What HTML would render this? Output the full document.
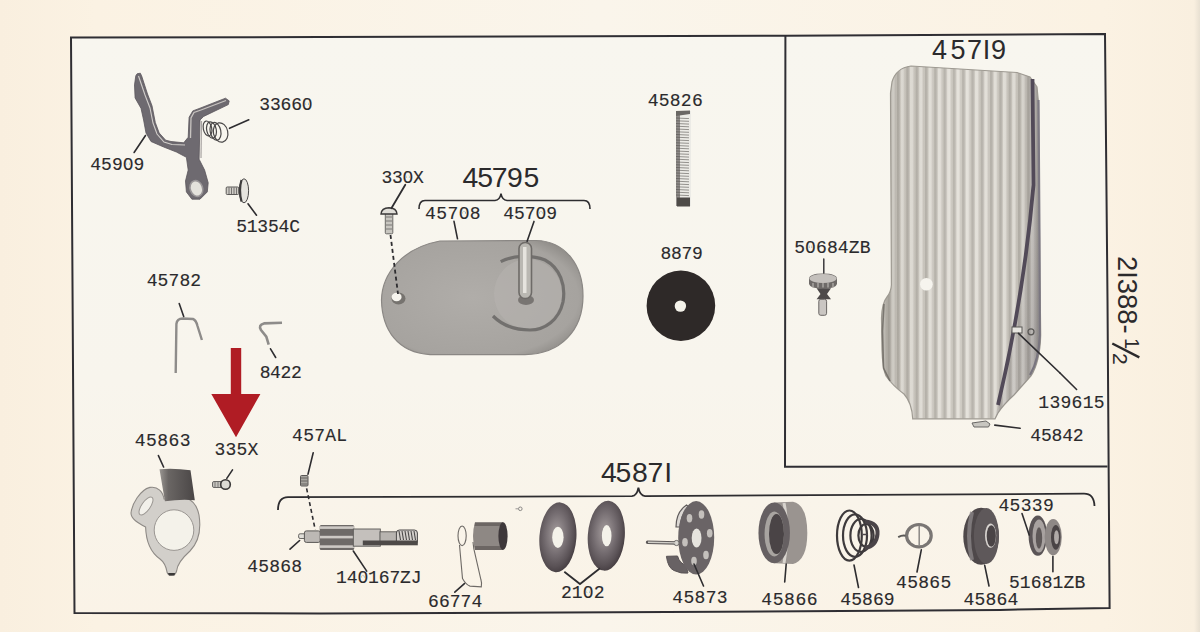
<!DOCTYPE html>
<html><head><meta charset="utf-8"><style>html,body{margin:0;padding:0;background:#fbf2e3;}svg{display:block;}</style></head>
<body>
<svg width="1200" height="632" viewBox="0 0 1200 632">
<defs>
<linearGradient id="lev" x1="0" y1="0" x2="1" y2="1"><stop offset="0" stop-color="#7a767a"/><stop offset="1" stop-color="#5e5a5e"/></linearGradient>
<radialGradient id="plate" cx="0.45" cy="0.5" r="0.62"><stop offset="0" stop-color="#b0ada9"/><stop offset="0.85" stop-color="#a6a39f"/><stop offset="1" stop-color="#908d89"/></radialGradient>
<pattern id="stripes" patternUnits="userSpaceOnUse" width="9.3" height="10" x="897"><rect width="9.3" height="10" fill="#cbc7bf"/><rect x="0" width="2.4" height="10" fill="#b6b2aa"/><rect x="3.6" width="3.4" height="10" fill="#e4e1da"/></pattern>
<linearGradient id="pshade" x1="0" y1="0" x2="1" y2="0"><stop offset="0" stop-color="#6a665e" stop-opacity="0.35"/><stop offset="0.12" stop-color="#6a665e" stop-opacity="0.08"/><stop offset="0.5" stop-color="#fff" stop-opacity="0.05"/><stop offset="0.85" stop-color="#6a665e" stop-opacity="0.05"/><stop offset="1" stop-color="#4a4650" stop-opacity="0.3"/></linearGradient>
<radialGradient id="disc" cx="0.45" cy="0.45" r="0.55"><stop offset="0.2" stop-color="#948c8e"/><stop offset="0.55" stop-color="#746c70"/><stop offset="0.85" stop-color="#5a5256"/><stop offset="1" stop-color="#4a4246"/></radialGradient>
</defs>
<defs><linearGradient id="inner" x1="0" y1="0" x2="0" y2="1"><stop offset="0" stop-color="#f8f6ef"/><stop offset="0.6" stop-color="#f8f5ed"/><stop offset="1" stop-color="#faf3e7"/></linearGradient><linearGradient id="outer" x1="0" y1="0" x2="1" y2="0"><stop offset="0" stop-color="#f9efdf"/><stop offset="0.08" stop-color="#fbf2e3"/><stop offset="0.5" stop-color="#faf5eb"/><stop offset="0.92" stop-color="#fbf2e3"/><stop offset="0.995" stop-color="#f9efdf"/><stop offset="1" stop-color="#e8e0d2"/></linearGradient></defs>
<rect width="1200" height="632" fill="url(#outer)"/>
<polygon points="71,37.5 320,37.1 785.5,35.8 1105,34 1107.5,300 1109.6,608 1000,609.9 720,611.8 320,613.5 74.5,613" fill="url(#inner)"/>
<polygon points="71,37.5 320,37.1 785.5,35.8 1105,34 1107.5,300 1109.6,608 1000,609.9 720,611.8 320,613.5 74.5,613" fill="none" stroke="#2f2e33" stroke-width="2" stroke-linejoin="miter"/>
<polyline points="785.4,35.8 785.2,265 785,466.8 1107.5,466.5" fill="none" stroke="#2f2e33" stroke-width="2"/>
<path d="M381.5,300 C382,274 402,248 440,241 L536,240.5 C566,241 583,266 583,296 C583,330 561,354 525,354.6 L430,354.6 C398,353 382,330 381.5,300 Z" fill="url(#plate)" stroke="#8a8784" stroke-width="1.2"/>
<ellipse cx="528" cy="294" rx="34" ry="35" fill="#b6b3af" opacity="0.6"/>
<path d="M500.7,261.6 C512,256 530,254 545,260 C560,268 566,285 563,302 C559,320 545,330 530,330 C512,330 500,323 493,316" fill="none" stroke="#72706e" stroke-width="3.2"/>
<ellipse cx="526" cy="300" rx="8" ry="5" fill="#6a6764" opacity="0.8"/>
<rect x="519" y="242.5" width="12.5" height="56" rx="6" fill="#bab8b2" stroke="#6e6b68" stroke-width="1.6"/>
<rect x="523" y="247" width="3.5" height="46" fill="#e6e4de"/>
<ellipse cx="398.5" cy="298.5" rx="7" ry="6" fill="#76736f"/>
<ellipse cx="396.6" cy="297" rx="5" ry="4.2" fill="#f6f4ee"/>
<rect x="385.3" y="213" width="7.5" height="20.8" rx="1" fill="#c8c6c0" stroke="#6a6866" stroke-width="1"/>
<line x1="386" y1="217" x2="392" y2="217" stroke="#7a7876" stroke-width="1"/>
<line x1="386" y1="221" x2="392" y2="221" stroke="#7a7876" stroke-width="1"/>
<line x1="386" y1="225" x2="392" y2="225" stroke="#7a7876" stroke-width="1"/>
<line x1="386" y1="229" x2="392" y2="229" stroke="#7a7876" stroke-width="1"/>
<path d="M381,214 Q381.5,208 389,207.8 Q396.5,208 397,214 Z" fill="#e0ded8" stroke="#3a3838" stroke-width="1.4"/>
<path d="M390.5,235 L398,294" stroke="#2e2d30" stroke-width="1.8" stroke-dasharray="4,3"/>
<path d="M419,209 Q419,200.5 425,200.5 L495,200.5 Q500,200 501,193.5 Q502,200 507,200.5 L584,200.5 Q590,200.5 590,209" fill="none" stroke="#2e2d30" stroke-width="1.6"/>
<line x1="405.3" y1="184.8" x2="391.4" y2="208.2" stroke="#2e2d30" stroke-width="1.8" stroke-linecap="round" />
<line x1="454" y1="221.4" x2="457.5" y2="238.8" stroke="#2e2d30" stroke-width="1.6" stroke-linecap="round" />
<line x1="534" y1="221.4" x2="527.1" y2="241.2" stroke="#2e2d30" stroke-width="1.6" stroke-linecap="round" />
<ellipse cx="680.9" cy="305.7" rx="34.3" ry="35.2" fill="#2e2928"/>
<circle cx="680.4" cy="306.1" r="5.7" fill="#f4f2ea"/>
<rect x="676" y="111" width="15" height="95" fill="#ecebe6"/>
<rect x="676" y="111" width="4" height="95" fill="#8e8a88"/>
<line x1="676" y1="118.0" x2="689" y2="118.6" stroke="#4e4b48" stroke-width="0.8" opacity="0.7"/>
<line x1="676" y1="120.8" x2="689" y2="121.3" stroke="#4e4b48" stroke-width="0.8" opacity="0.7"/>
<line x1="676" y1="123.5" x2="689" y2="124.1" stroke="#4e4b48" stroke-width="0.8" opacity="0.7"/>
<line x1="676" y1="126.2" x2="689" y2="126.8" stroke="#4e4b48" stroke-width="0.8" opacity="0.7"/>
<line x1="676" y1="129.0" x2="689" y2="129.6" stroke="#4e4b48" stroke-width="0.8" opacity="0.7"/>
<line x1="676" y1="131.8" x2="689" y2="132.3" stroke="#4e4b48" stroke-width="0.8" opacity="0.7"/>
<line x1="676" y1="134.5" x2="689" y2="135.1" stroke="#4e4b48" stroke-width="0.8" opacity="0.7"/>
<line x1="676" y1="137.2" x2="689" y2="137.8" stroke="#4e4b48" stroke-width="0.8" opacity="0.7"/>
<line x1="676" y1="140.0" x2="689" y2="140.6" stroke="#4e4b48" stroke-width="0.8" opacity="0.7"/>
<line x1="676" y1="142.8" x2="689" y2="143.3" stroke="#4e4b48" stroke-width="0.8" opacity="0.7"/>
<line x1="676" y1="145.5" x2="689" y2="146.1" stroke="#4e4b48" stroke-width="0.8" opacity="0.7"/>
<line x1="676" y1="148.2" x2="689" y2="148.8" stroke="#4e4b48" stroke-width="0.8" opacity="0.7"/>
<line x1="676" y1="151.0" x2="689" y2="151.6" stroke="#4e4b48" stroke-width="0.8" opacity="0.7"/>
<line x1="676" y1="153.8" x2="689" y2="154.3" stroke="#4e4b48" stroke-width="0.8" opacity="0.7"/>
<line x1="676" y1="156.5" x2="689" y2="157.1" stroke="#4e4b48" stroke-width="0.8" opacity="0.7"/>
<line x1="676" y1="159.2" x2="689" y2="159.8" stroke="#4e4b48" stroke-width="0.8" opacity="0.7"/>
<line x1="676" y1="162.0" x2="689" y2="162.6" stroke="#4e4b48" stroke-width="0.8" opacity="0.7"/>
<line x1="676" y1="164.8" x2="689" y2="165.3" stroke="#4e4b48" stroke-width="0.8" opacity="0.7"/>
<line x1="676" y1="167.5" x2="689" y2="168.1" stroke="#4e4b48" stroke-width="0.8" opacity="0.7"/>
<line x1="676" y1="170.2" x2="689" y2="170.8" stroke="#4e4b48" stroke-width="0.8" opacity="0.7"/>
<line x1="676" y1="173.0" x2="689" y2="173.6" stroke="#4e4b48" stroke-width="0.8" opacity="0.7"/>
<line x1="676" y1="175.8" x2="689" y2="176.3" stroke="#4e4b48" stroke-width="0.8" opacity="0.7"/>
<line x1="676" y1="178.5" x2="689" y2="179.1" stroke="#4e4b48" stroke-width="0.8" opacity="0.7"/>
<line x1="676" y1="181.2" x2="689" y2="181.8" stroke="#4e4b48" stroke-width="0.8" opacity="0.7"/>
<line x1="676" y1="184.0" x2="689" y2="184.6" stroke="#4e4b48" stroke-width="0.8" opacity="0.7"/>
<line x1="676" y1="186.8" x2="689" y2="187.3" stroke="#4e4b48" stroke-width="0.8" opacity="0.7"/>
<line x1="676" y1="189.5" x2="689" y2="190.1" stroke="#4e4b48" stroke-width="0.8" opacity="0.7"/>
<line x1="676" y1="192.2" x2="689" y2="192.8" stroke="#4e4b48" stroke-width="0.8" opacity="0.7"/>
<line x1="676" y1="195.0" x2="689" y2="195.6" stroke="#4e4b48" stroke-width="0.8" opacity="0.7"/>
<path d="M676,111 L690,110.5 L690,114 L676,116 Z" fill="#6a6764"/>
<rect x="677" y="197.5" width="13" height="9" fill="#4e4b48"/>
<path d="M911,66 L1017,72.5 L1030,77 L1037,87 L1038.5,103 L1039.5,240 L1040.7,335 Q1040,362 1031,376 L1014,395 Q1003,405 998,413 L995,418.8 L912.7,418.8 Q912,403 904,394 Q893,386 886,376 Q882.5,368 882,350 L881.5,318 Q882,303 887,297 Q891,292 891.4,285 L890.5,93 L892,82 Q896,68 911,66 Z" fill="url(#stripes)"/>
<path d="M911,66 L1017,72.5 L1030,77 L1037,87 L1038.5,103 L1039.5,240 L1040.7,335 Q1040,362 1031,376 L1014,395 Q1003,405 998,413 L995,418.8 L912.7,418.8 Q912,403 904,394 Q893,386 886,376 Q882.5,368 882,350 L881.5,318 Q882,303 887,297 Q891,292 891.4,285 L890.5,93 L892,82 Q896,68 911,66 Z" fill="url(#pshade)"/>
<path d="M911,66 L1017,72.5 L1030,77 L1037,87 L1038.5,103 L1039.5,240 L1040.7,335 Q1040,362 1031,376 L1014,395 Q1003,405 998,413 L995,418.8 L912.7,418.8 Q912,403 904,394 Q893,386 886,376 Q882.5,368 882,350 L881.5,318 Q882,303 887,297 Q891,292 891.4,285 L890.5,93 L892,82 Q896,68 911,66 Z" fill="none" stroke="#9e9a92" stroke-width="1.2"/>
<path d="M1038.5,100 L1039.5,240 L1039.8,335 Q1039,360 1030,375" fill="none" stroke="#7e7a84" stroke-width="2.2"/>
<path d="M884,304 L882.5,331 L883.5,368 L890,381" fill="none" stroke="#6a6660" stroke-width="1.6" opacity="0.8"/>
<defs><linearGradient id="rshade" gradientUnits="userSpaceOnUse" x1="0" y1="200" x2="0" y2="340"><stop offset="0" stop-color="#5a5660" stop-opacity="0"/><stop offset="1" stop-color="#5a5660" stop-opacity="0.14"/></linearGradient></defs>
<path d="M1033.5,185 Q1024,295 998,405 L995,418.8 L998,413 Q1003,405 1014,395 L1031,376 Q1040,362 1040.7,335 L1039.5,185 Z" fill="url(#rshade)"/>
<path d="M1032.5,79 L1033.5,185 Q1024,295 998,405" fill="none" stroke="#524a58" stroke-width="3.8" stroke-linejoin="round"/>
<circle cx="926.4" cy="284.2" r="6.3" fill="#f6f4ee"/>
<rect x="1012" y="327" width="10" height="6" fill="#e8e6e0" stroke="#5a5856" stroke-width="1"/>
<circle cx="1031" cy="331.8" r="3" fill="none" stroke="#5a5856" stroke-width="1.2"/>
<line x1="1018.5" y1="333.4" x2="1060" y2="373" stroke="#2e2d30" stroke-width="1.6" stroke-linecap="round" />
<line x1="1060" y1="373" x2="1076.6" y2="389.5" stroke="#2e2d30" stroke-width="1.6" stroke-linecap="round" />
<path d="M972,423 L986,421 L990,424 L988.5,427 L974,427 Z" fill="#c8c6c0" stroke="#6a6866" stroke-width="1"/>
<line x1="994.8" y1="425.1" x2="1020.1" y2="428.3" stroke="#2e2d30" stroke-width="1.6" stroke-linecap="round" />
<line x1="823.8" y1="258.9" x2="823.8" y2="273.3" stroke="#2e2d30" stroke-width="1.4" stroke-linecap="round" />
<path d="M809,279 Q809,273.5 823,273.5 Q837,273.5 837,279 L837,284 Q836,288.5 823,288.5 Q810,288.5 809,284 Z" fill="#6e6a68"/>
<ellipse cx="823" cy="278.5" rx="13.5" ry="4.5" fill="#c4c0bc"/>
<line x1="813" y1="283" x2="813" y2="287.5" stroke="#b8b4b0" stroke-width="1.2"/>
<line x1="818" y1="283" x2="818" y2="287.5" stroke="#b8b4b0" stroke-width="1.2"/>
<line x1="823" y1="283" x2="823" y2="287.5" stroke="#b8b4b0" stroke-width="1.2"/>
<line x1="828" y1="283" x2="828" y2="287.5" stroke="#b8b4b0" stroke-width="1.2"/>
<line x1="833" y1="283" x2="833" y2="287.5" stroke="#b8b4b0" stroke-width="1.2"/>
<path d="M816.6,288.3 L831,288.3 L827,294 L831,299.3 L816.6,299.3 L820.5,294 Z" fill="#4e4a4a"/>
<rect x="818.8" y="299.3" width="7.8" height="16" rx="2" fill="#cac6c2" stroke="#6a6664" stroke-width="1"/>
<path d="M137.1,73.8 L140.3,73.2 L141.6,75.8 L147.5,94 L152,105.7 L155.3,122.5 L159.2,133 L165.7,140.2 L171,141.5 L183.7,142.8 L188.2,137.3 L189.1,117.3 L192.8,110.9 L200,108.2 L225.5,98.2 L229.2,100.9 L228.3,104.6 L203.7,116.4 L200,120 L199.1,159.2 L204.6,170.1 L208.2,182.8 L207.3,191.9 L200,199.2 L191.9,199.2 L186.4,191.9 L185.5,181 L188.2,170.1 L186.4,157.3 L176.4,152 L163.7,147 L151,141.5 L146,133 L143.6,120 L141,108.3 L135.1,97.9 L134.5,84.9 L135.8,75.8 Z" fill="#6e6a70" stroke="#5a565c" stroke-width="0.8" stroke-linejoin="round"/>
<path d="M138.5,76 L145,95 L150,108 L153,123 L157,134 L164,142 L172,144.5 L185,145" fill="none" stroke="#dcd8d4" stroke-width="1.1" opacity="0.9"/>
<path d="M190.5,138 L191,118 L194,112.5 L201,110 L226,100.5" fill="none" stroke="#c8c4c0" stroke-width="1.3"/>
<path d="M201.5,121 L201,158" fill="none" stroke="#a8a4a2" stroke-width="1.2"/>
<ellipse cx="196.4" cy="188.5" rx="6.2" ry="8" transform="rotate(-20 196.4 188.5)" fill="#e4e2dc" stroke="#9a9698" stroke-width="1.6"/>
<ellipse cx="207.5" cy="128.5" rx="4.2" ry="7.6" transform="rotate(-12 207.5 128.5)" fill="none" stroke="#4a4848" stroke-width="1.2"/>
<ellipse cx="211.5" cy="130" rx="4.8" ry="8.3" transform="rotate(-12 211.5 130)" fill="none" stroke="#4a4848" stroke-width="1.2"/>
<ellipse cx="215.5" cy="131.3" rx="5.3" ry="9" transform="rotate(-12 215.5 131.3)" fill="none" stroke="#4a4848" stroke-width="1.2"/>
<ellipse cx="220.6" cy="132.5" rx="7.2" ry="9.8" transform="rotate(-12 220.6 132.5)" fill="none" stroke="#4a4848" stroke-width="1.2"/>
<line x1="229.5" y1="128.3" x2="248.8" y2="119.8" stroke="#2e2d30" stroke-width="1.6" stroke-linecap="round" />
<line x1="134.1" y1="152.5" x2="145.5" y2="135.5" stroke="#2e2d30" stroke-width="1.6" stroke-linecap="round" />
<rect x="226.2" y="187" width="12.5" height="7.5" rx="1" fill="#cfccc6" stroke="#5a5856" stroke-width="1"/>
<line x1="229" y1="187.5" x2="229" y2="194" stroke="#6a6866" stroke-width="0.9"/>
<line x1="231.5" y1="187.5" x2="231.5" y2="194" stroke="#6a6866" stroke-width="0.9"/>
<line x1="234" y1="187.5" x2="234" y2="194" stroke="#6a6866" stroke-width="0.9"/>
<line x1="236.5" y1="187.5" x2="236.5" y2="194" stroke="#6a6866" stroke-width="0.9"/>
<ellipse cx="244" cy="190.8" rx="4.6" ry="12" fill="#e6e4de" stroke="#4a4848" stroke-width="1"/>
<path d="M241.5,180 Q238.5,190 241.5,201.5" fill="none" stroke="#3e3c3c" stroke-width="2.2"/>
<line x1="248" y1="203.8" x2="256.5" y2="215.2" stroke="#2e2d30" stroke-width="1.6" stroke-linecap="round" />
<path d="M175.7,373 L176.4,324 Q177,318.5 182.7,318.5 L193,319 Q196,320 197.5,326 L201.9,340" fill="none" stroke="#8e8c8a" stroke-width="2.4"/>
<line x1="179.2" y1="303.5" x2="183.7" y2="316.4" stroke="#2e2d30" stroke-width="1.6" stroke-linecap="round" />
<path d="M282,322.7 L264,323.4 Q258,325 261,330 L266.3,336.6 L268.7,344.6" fill="none" stroke="#8e8c8a" stroke-width="2.6"/>
<line x1="270.5" y1="348.8" x2="275.7" y2="357.5" stroke="#2e2d30" stroke-width="1.6" stroke-linecap="round" />
<path d="M230.8,348.1 L241.2,348.1 L241.2,393.9 L260.4,393.9 L236,437.2 L211.3,393.9 L230.8,393.9 Z" fill="#b01c24"/>
<path d="M149.9,487.4 C140,490 132,504 131,513 C131,519 138,523 145.6,527 C146,540 150,552 160,559 C164,562 166,566 167,572 C168,576 175,577 176.6,571 C177,566 181,559 190,551 C199,542 201,528 199,515 C197,505 192,500 186,498 L164,499 C163,492 158,486 149.9,487.4 Z" fill="#d2cfca" stroke="#8e8a86" stroke-width="1.1"/>
<ellipse cx="174" cy="530.1" rx="19.8" ry="20.3" fill="#f4f2ea" stroke="#9a9692" stroke-width="1"/>
<ellipse cx="146" cy="506" rx="10.5" ry="4.3" transform="rotate(-55 146 506)" fill="#f2f0ea" stroke="#9a9692" stroke-width="1"/>
<path d="M168,573 L175,573 L174.5,575.5 L169,575.5 Z" fill="#3a3838"/>
<defs><linearGradient id="blk" x1="0" y1="0" x2="1" y2="0"><stop offset="0" stop-color="#9a9692"/><stop offset="0.25" stop-color="#6a6664"/><stop offset="1" stop-color="#4a4646"/></linearGradient></defs>
<path d="M159.5,469.2 Q175,468 190.5,470.3 L194.8,500.2 Q180,499 164.9,501.3 Z" fill="url(#blk)"/>
<line x1="158.4" y1="455.6" x2="163.6" y2="467" stroke="#2e2d30" stroke-width="1.6" stroke-linecap="round" />
<rect x="212.5" y="481.5" width="10" height="6" rx="1.5" fill="#c6c4be" stroke="#6a6866" stroke-width="1"/>
<line x1="215" y1="482" x2="215" y2="487" stroke="#6a6866" stroke-width="0.8"/>
<line x1="218" y1="482" x2="218" y2="487" stroke="#6a6866" stroke-width="0.8"/>
<line x1="221" y1="482" x2="221" y2="487" stroke="#6a6866" stroke-width="0.8"/>
<circle cx="225.5" cy="484.5" r="4.8" fill="#dcdad4" stroke="#3a3838" stroke-width="1.6"/>
<line x1="232.5" y1="469.9" x2="226.8" y2="478.4" stroke="#2e2d30" stroke-width="1.6" stroke-linecap="round" />
<rect x="300.5" y="475.5" width="7.5" height="10.5" rx="1" fill="#a8a6a0" stroke="#5a5856" stroke-width="1"/>
<line x1="301" y1="478" x2="307.5" y2="478" stroke="#5a5856" stroke-width="0.8"/>
<line x1="301" y1="481" x2="307.5" y2="481" stroke="#5a5856" stroke-width="0.8"/>
<line x1="301" y1="484" x2="307.5" y2="484" stroke="#5a5856" stroke-width="0.8"/>
<line x1="313.2" y1="452.8" x2="308" y2="474.1" stroke="#2e2d30" stroke-width="1.6" stroke-linecap="round" />
<path d="M306.6,488.4 L315.2,529.7" stroke="#2e2d30" stroke-width="1.6" stroke-dasharray="4,3"/>
<path d="M278,510 Q278,497.5 288,497.2 L632,496.2 Q637,495.8 638.4,487.7 Q640,495.8 645,496.1 L1084,493.7 Q1094,493.7 1094.5,506" fill="none" stroke="#2e2d30" stroke-width="1.8"/>
<rect x="298.6" y="533.8" width="7" height="4.7" rx="1.5" fill="#e0ded8" stroke="#5a5856" stroke-width="0.9"/>
<rect x="304.4" y="530.9" width="16" height="11.5" rx="2" fill="#bcb8b4" stroke="#5a5856" stroke-width="1"/>
<rect x="319.7" y="525.1" width="34.5" height="24.9" rx="1.5" fill="#6e6a68"/>
<rect x="320" y="526.3" width="34" height="2.6" fill="#cdc9c5"/>
<rect x="320" y="535.8" width="34" height="2.6" fill="#cdc9c5"/>
<rect x="320" y="545.3" width="34" height="2.6" fill="#cdc9c5"/>
<rect x="353.3" y="529" width="27" height="17.2" fill="#c4c0bc" stroke="#5a5856" stroke-width="0.9"/>
<rect x="380" y="531.8" width="17.5" height="11.5" fill="#b8b4b0" stroke="#5a5856" stroke-width="0.9"/>
<rect x="396.4" y="530" width="21" height="14.3" rx="3" fill="#d4d0cc" stroke="#4a4848" stroke-width="1"/>
<line x1="399" y1="531" x2="400.5" y2="540" stroke="#4a4848" stroke-width="1.1"/>
<line x1="402" y1="531" x2="403.5" y2="540" stroke="#4a4848" stroke-width="1.1"/>
<line x1="405" y1="531" x2="406.5" y2="540" stroke="#4a4848" stroke-width="1.1"/>
<line x1="408" y1="531" x2="409.5" y2="540" stroke="#4a4848" stroke-width="1.1"/>
<line x1="411" y1="531" x2="412.5" y2="540" stroke="#4a4848" stroke-width="1.1"/>
<line x1="414" y1="531" x2="415.5" y2="540" stroke="#4a4848" stroke-width="1.1"/>
<rect x="362.8" y="540.5" width="55" height="4.8" fill="#4e4a48"/>
<line x1="290" y1="549.1" x2="299.6" y2="540.5" stroke="#2e2d30" stroke-width="1.6" stroke-linecap="round" />
<line x1="353.3" y1="551" x2="366.7" y2="571.1" stroke="#2e2d30" stroke-width="1.6" stroke-linecap="round" />
<ellipse cx="462.1" cy="535.8" rx="4.1" ry="9.8" fill="none" stroke="#6e6a66" stroke-width="1.1"/>
<path d="M459.5,545 L462.5,578.6 Q466,585 470,586.1 L481.3,586.9 Q482,583 481,580 L473.8,548.6 L473,542" fill="none" stroke="#6e6a66" stroke-width="1.1"/>
<line x1="454.8" y1="592.2" x2="464.4" y2="583.6" stroke="#2e2d30" stroke-width="1.6" stroke-linecap="round" />
<path d="M475,522.3 L503,522.3 L503,550 L475,550 Q471,536 475,522.3 Z" fill="#8e8884"/>
<path d="M475,522.5 L503,522.5 L503,526 L474.5,526 Z" fill="#5e5856" opacity="0.7"/>
<path d="M474.5,546 L503,546 L503,550 L475,550 Z" fill="#5e5856" opacity="0.7"/>
<ellipse cx="503" cy="536.1" rx="4.6" ry="13.8" fill="#3e383a"/>
<circle cx="520.3" cy="508.8" r="1.8" fill="none" stroke="#8a8886" stroke-width="1"/>
<line x1="515.5" y1="508.8" x2="518" y2="508.8" stroke="#9a9896" stroke-width="1"/>
<ellipse cx="557.9" cy="537.3" rx="18.5" ry="35" transform="rotate(4 557.9 537.3)" fill="url(#disc)"/>
<ellipse cx="557.9" cy="537.3" rx="5.7" ry="10.6" fill="#f4f2ea"/>
<ellipse cx="606.3" cy="535.7" rx="18.5" ry="35" transform="rotate(4 606.3 535.7)" fill="url(#disc)"/>
<ellipse cx="606.7" cy="535.7" rx="4.8" ry="10.6" fill="#f4f2ea"/>
<polyline points="564.3,571.7 580,584 600,568.3" fill="none" stroke="#2e2d30" stroke-width="1.8"/>
<path d="M686.5,505 Q676,512 676,527 L680,527 Q681,514 689,507 Z" fill="#dcd8d4" stroke="#5e5a5a" stroke-width="1.2"/>
<path d="M666.4,556.3 Q668,568 674,570.5 Q681,574 688,573 L686,565 Q680,564 677.5,556 Z" fill="#686264" stroke="#5a5456" stroke-width="1"/>
<ellipse cx="696.2" cy="537.8" rx="18" ry="36.7" fill="#6a6466"/>
<ellipse cx="696.6" cy="538" rx="4.9" ry="9.4" fill="#e6e4de"/>
<ellipse cx="689.5" cy="518.2" rx="2.8" ry="4.2" fill="#c4c0bc"/>
<ellipse cx="701.5" cy="514.5" rx="2.8" ry="4.2" fill="#c4c0bc"/>
<ellipse cx="709.7" cy="533.2" rx="2.8" ry="4.2" fill="#c4c0bc"/>
<ellipse cx="685" cy="542.2" rx="2.8" ry="4.2" fill="#c4c0bc"/>
<ellipse cx="706" cy="555" rx="2.8" ry="4.2" fill="#c4c0bc"/>
<ellipse cx="694" cy="561" rx="2.8" ry="4.2" fill="#c4c0bc"/>
<line x1="647.5" y1="542.2" x2="677" y2="543" stroke="#5e5a5a" stroke-width="3.4" stroke-linecap="round"/>
<circle cx="676.5" cy="543" r="2.6" fill="#d8d6d0" stroke="#6a6866" stroke-width="1"/>
<line x1="648" y1="542.2" x2="676" y2="542.9" stroke="#d0cec8" stroke-width="1.4"/>
<line x1="694" y1="564" x2="703.5" y2="586" stroke="#2e2d30" stroke-width="1.6" stroke-linecap="round" />
<path d="M774.2,502.5 L793,501.8 Q807.3,505 807.3,533 Q807.3,560 793,564 L774.2,563.3 Z" fill="#9a9490"/>
<path d="M784,503 Q790,533 784,563" fill="none" stroke="#d8d4ce" stroke-width="3"/>
<ellipse cx="774.2" cy="532.9" rx="15.75" ry="30.4" fill="#666062"/>
<ellipse cx="774.3" cy="534" rx="9.75" ry="22.5" fill="#a8a4a0"/>
<ellipse cx="776.5" cy="534" rx="7.5" ry="20" fill="#4a4446"/>
<line x1="786.2" y1="564" x2="784.7" y2="582" stroke="#2e2d30" stroke-width="1.6" stroke-linecap="round" />
<ellipse cx="849.4" cy="535.6" rx="12.4" ry="25.1" fill="none" stroke="#3e3a3c" stroke-width="2.2"/>
<ellipse cx="855" cy="535.6" rx="12" ry="21.2" fill="none" stroke="#3e3a3c" stroke-width="2.2"/>
<ellipse cx="861" cy="535.4" rx="10.6" ry="16.4" fill="none" stroke="#3e3a3c" stroke-width="2.2"/>
<ellipse cx="866" cy="535.4" rx="7.6" ry="11.4" fill="none" stroke="#3e3a3c" stroke-width="2.2"/>
<path d="M865,521.5 Q878.5,523 877.5,534 Q876.5,546 865,548" fill="none" stroke="#4a4448" stroke-width="4"/>
<line x1="863" y1="534.5" x2="868" y2="534.5" stroke="#4a4448" stroke-width="1.5"/>
<line x1="854" y1="565" x2="858.5" y2="587.5" stroke="#2e2d30" stroke-width="1.6" stroke-linecap="round" />
<ellipse cx="918.9" cy="535.7" rx="12.3" ry="11.2" fill="none" stroke="#7a7674" stroke-width="3.2"/>
<line x1="919.2" y1="525.7" x2="919.2" y2="545.6" stroke="#8a8684" stroke-width="1.5"/>
<path d="M898.2,537.1 Q902,535 905.5,535.7" fill="none" stroke="#5a5856" stroke-width="2"/>
<line x1="921.3" y1="549.9" x2="917" y2="572" stroke="#2e2d30" stroke-width="1.6" stroke-linecap="round" />
<ellipse cx="981.1" cy="536.2" rx="17.8" ry="28.5" fill="#4e484a"/>
<path d="M972,512 Q966,536 972,560" fill="none" stroke="#8a8486" stroke-width="4" opacity="0.8"/>
<ellipse cx="986.4" cy="536" rx="12.5" ry="28" fill="#5e585a"/>
<ellipse cx="990.6" cy="535.6" rx="5.6" ry="12.2" fill="#d8d4d0"/>
<ellipse cx="991.3" cy="536" rx="4.6" ry="10.8" fill="#4a4446"/>
<line x1="984.7" y1="565.3" x2="989" y2="586" stroke="#2e2d30" stroke-width="1.6" stroke-linecap="round" />
<ellipse cx="1037.8" cy="535.6" rx="9.2" ry="20.2" fill="#5a5456"/>
<ellipse cx="1039" cy="536" rx="6.5" ry="16.5" fill="#a8a2a0"/>
<ellipse cx="1039" cy="538" rx="3.2" ry="10.7" fill="#5e5858"/>
<ellipse cx="1053.2" cy="537.1" rx="8.6" ry="18.1" fill="#8e8886"/>
<ellipse cx="1055.8" cy="537.3" rx="4.8" ry="12.4" fill="#4a4446"/>
<ellipse cx="1056.5" cy="537.3" rx="2.4" ry="7" fill="#b0aaa8"/>
<line x1="1022" y1="513.6" x2="1029.2" y2="535" stroke="#2e2d30" stroke-width="1.6" stroke-linecap="round" />
<line x1="1052.9" y1="556.4" x2="1052.9" y2="571.8" stroke="#2e2d30" stroke-width="1.6" stroke-linecap="round" />
<text x="259.3" y="109.6" font-family="Liberation Mono, monospace" font-size="18" letter-spacing="-0.18" fill="#2b2a2c" stroke="#2b2a2c" stroke-width="0.15">33660</text>
<ellipse cx="307.14" cy="103.70" rx="1.3" ry="1.9" fill="#f8f5ed"/>
<text x="90.3" y="169.6" font-family="Liberation Mono, monospace" font-size="18" letter-spacing="0.02" fill="#2b2a2c" stroke="#2b2a2c" stroke-width="0.15">45909</text>
<ellipse cx="128.12" cy="163.70" rx="1.3" ry="1.9" fill="#f8f5ed"/>
<text x="236.2" y="231.8" font-family="Liberation Mono, monospace" font-size="18" letter-spacing="-0.21" fill="#2b2a2c" stroke="#2b2a2c" stroke-width="0.15">51354C</text>
<text x="381.4" y="182.6" font-family="Liberation Mono, monospace" font-size="18" letter-spacing="-0.28" fill="#2b2a2c" stroke="#2b2a2c" stroke-width="0.15">330X</text>
<ellipse cx="407.82" cy="176.70" rx="1.3" ry="1.9" fill="#f8f5ed"/>
<text x="425.1" y="219.3" font-family="Liberation Mono, monospace" font-size="18" letter-spacing="0.39" fill="#2b2a2c" stroke="#2b2a2c" stroke-width="0.15">45708</text>
<ellipse cx="464.05" cy="213.40" rx="1.3" ry="1.9" fill="#f8f5ed"/>
<text x="503.3" y="219.3" font-family="Liberation Mono, monospace" font-size="18" letter-spacing="-0.06" fill="#2b2a2c" stroke="#2b2a2c" stroke-width="0.15">45709</text>
<ellipse cx="540.90" cy="213.40" rx="1.3" ry="1.9" fill="#f8f5ed"/>
<text x="647.8" y="105.8" font-family="Liberation Mono, monospace" font-size="18" letter-spacing="0.22" fill="#2b2a2c" stroke="#2b2a2c" stroke-width="0.15">45826</text>
<text x="660.5" y="259.2" font-family="Liberation Mono, monospace" font-size="18" letter-spacing="-0.31" fill="#2b2a2c" stroke="#2b2a2c" stroke-width="0.15">8879</text>
<text x="794.2" y="252.6" font-family="Liberation Mono, monospace" font-size="18" letter-spacing="0.11" fill="#2b2a2c" stroke="#2b2a2c" stroke-width="0.15">50684ZB</text>
<ellipse cx="810.49" cy="246.70" rx="1.3" ry="1.9" fill="#f8f5ed"/>
<text x="1038.3" y="407.8" font-family="Liberation Mono, monospace" font-size="18" letter-spacing="0.29" fill="#2b2a2c" stroke="#2b2a2c" stroke-width="0.15">139615</text>
<text x="1030.3" y="441.0" font-family="Liberation Mono, monospace" font-size="18" letter-spacing="-0.16" fill="#2b2a2c" stroke="#2b2a2c" stroke-width="0.15">45842</text>
<text x="146.7" y="286.3" font-family="Liberation Mono, monospace" font-size="18" letter-spacing="0.11" fill="#2b2a2c" stroke="#2b2a2c" stroke-width="0.15">45782</text>
<text x="259.7" y="378.3" font-family="Liberation Mono, monospace" font-size="18" letter-spacing="-0.38" fill="#2b2a2c" stroke="#2b2a2c" stroke-width="0.15">8422</text>
<text x="214.4" y="455.4" font-family="Liberation Mono, monospace" font-size="18" letter-spacing="0.22" fill="#2b2a2c" stroke="#2b2a2c" stroke-width="0.15">335X</text>
<text x="134.8" y="446.2" font-family="Liberation Mono, monospace" font-size="18" letter-spacing="0.46" fill="#2b2a2c" stroke="#2b2a2c" stroke-width="0.15">45863</text>
<text x="292.1" y="440.6" font-family="Liberation Mono, monospace" font-size="18" letter-spacing="0.24" fill="#2b2a2c" stroke="#2b2a2c" stroke-width="0.15">457AL</text>
<text x="247.3" y="571.7" font-family="Liberation Mono, monospace" font-size="18" letter-spacing="0.19" fill="#2b2a2c" stroke="#2b2a2c" stroke-width="0.15">45868</text>
<text x="336.1" y="583.4" font-family="Liberation Mono, monospace" font-size="18" letter-spacing="-0.13" fill="#2b2a2c" stroke="#2b2a2c" stroke-width="0.15">140167ZJ</text>
<ellipse cx="362.81" cy="577.50" rx="1.3" ry="1.9" fill="#f8f5ed"/>
<text x="428.1" y="607.1" font-family="Liberation Mono, monospace" font-size="18" letter-spacing="0.02" fill="#2b2a2c" stroke="#2b2a2c" stroke-width="0.15">66774</text>
<text x="560.9" y="597.5" font-family="Liberation Mono, monospace" font-size="18" letter-spacing="0.15" fill="#2b2a2c" stroke="#2b2a2c" stroke-width="0.15">2102</text>
<ellipse cx="588.19" cy="591.60" rx="1.3" ry="1.9" fill="#f8f5ed"/>
<text x="672.3" y="602.9" font-family="Liberation Mono, monospace" font-size="18" letter-spacing="0.32" fill="#2b2a2c" stroke="#2b2a2c" stroke-width="0.15">45873</text>
<text x="761.3" y="604.9" font-family="Liberation Mono, monospace" font-size="18" letter-spacing="0.57" fill="#2b2a2c" stroke="#2b2a2c" stroke-width="0.15">45866</text>
<text x="840.3" y="604.9" font-family="Liberation Mono, monospace" font-size="18" letter-spacing="0.07" fill="#2b2a2c" stroke="#2b2a2c" stroke-width="0.15">45869</text>
<text x="896.1" y="587.9" font-family="Liberation Mono, monospace" font-size="18" letter-spacing="0.27" fill="#2b2a2c" stroke="#2b2a2c" stroke-width="0.15">45865</text>
<text x="963.6" y="605.0" font-family="Liberation Mono, monospace" font-size="18" letter-spacing="0.19" fill="#2b2a2c" stroke="#2b2a2c" stroke-width="0.15">45864</text>
<text x="998.5" y="511.0" font-family="Liberation Mono, monospace" font-size="18" letter-spacing="0.32" fill="#2b2a2c" stroke="#2b2a2c" stroke-width="0.15">45339</text>
<text x="1008.9" y="587.9" font-family="Liberation Mono, monospace" font-size="18" letter-spacing="0.13" fill="#2b2a2c" stroke="#2b2a2c" stroke-width="0.15">51681ZB</text>
<text x="470.5" y="186.9" font-family="Liberation Sans, sans-serif" font-size="28.4" text-anchor="middle" fill="#2b2a2c">4</text>
<text x="485.1" y="186.9" font-family="Liberation Sans, sans-serif" font-size="28.4" text-anchor="middle" fill="#2b2a2c">5</text>
<text x="499.6" y="186.9" font-family="Liberation Sans, sans-serif" font-size="28.4" text-anchor="middle" fill="#2b2a2c">7</text>
<text x="514.9" y="186.9" font-family="Liberation Sans, sans-serif" font-size="28.4" text-anchor="middle" fill="#2b2a2c">9</text>
<text x="531.5" y="186.9" font-family="Liberation Sans, sans-serif" font-size="28.4" text-anchor="middle" fill="#2b2a2c">5</text>
<text x="939.5" y="59.4" font-family="Liberation Sans, sans-serif" font-size="27" text-anchor="middle" fill="#2b2a2c">4</text>
<text x="958.0" y="59.4" font-family="Liberation Sans, sans-serif" font-size="27" text-anchor="middle" fill="#2b2a2c">5</text>
<text x="974.6" y="59.4" font-family="Liberation Sans, sans-serif" font-size="27" text-anchor="middle" fill="#2b2a2c">7</text>
<text x="986.5" y="59.4" font-family="Liberation Sans, sans-serif" font-size="27" text-anchor="middle" fill="#2b2a2c">I</text>
<text x="998.5" y="59.4" font-family="Liberation Sans, sans-serif" font-size="27" text-anchor="middle" fill="#2b2a2c">9</text>
<text x="608.8" y="482" font-family="Liberation Sans, sans-serif" font-size="28.4" text-anchor="middle" fill="#2b2a2c">4</text>
<text x="623.3" y="482" font-family="Liberation Sans, sans-serif" font-size="28.4" text-anchor="middle" fill="#2b2a2c">5</text>
<text x="639.9" y="482" font-family="Liberation Sans, sans-serif" font-size="28.4" text-anchor="middle" fill="#2b2a2c">8</text>
<text x="655.5" y="482" font-family="Liberation Sans, sans-serif" font-size="28.4" text-anchor="middle" fill="#2b2a2c">7</text>
<text x="668.1" y="482" font-family="Liberation Sans, sans-serif" font-size="28.4" text-anchor="middle" fill="#2b2a2c">I</text>
<g transform="translate(1118.1,256.7) rotate(90)"><text x="-0.8" y="0" font-family="Liberation Sans, sans-serif" font-size="27.4" fill="#2b2a2c">2I388-</text><text x="81.2" y="-7" font-family="Liberation Sans, sans-serif" font-size="20" fill="#2b2a2c">1</text><line x1="86.8" y1="5.8" x2="100.7" y2="-21.2" stroke="#2b2a2c" stroke-width="2.4"/><text x="96.3" y="5.5" font-family="Liberation Sans, sans-serif" font-size="21" fill="#2b2a2c">2</text></g>
</svg>
</body></html>
